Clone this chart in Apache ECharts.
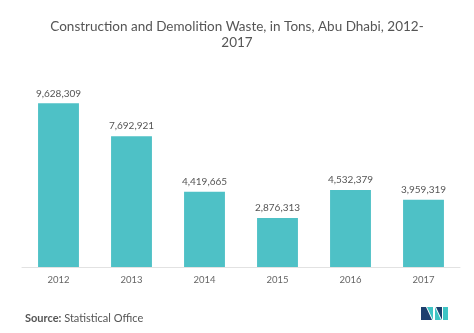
<!DOCTYPE html>
<html>
<head>
<meta charset="utf-8">
<script src="https://cdn.jsdelivr.net/npm/echarts@6/dist/echarts.min.js"></script>
<style>
html,body{margin:0;padding:0;background:#fff;}
#chart{width:474px;height:333px;}
</style>
</head>
<body>
<div id="chart"></div>
<script>
var categories = ['2012', '2013', '2014', '2015', '2016', '2017'];
var wasteTons = [9628309, 7692921, 4419665, 2876313, 4532379, 3959319];
var titleText = 'Construction and Demolition Waste, in Tons, Abu Dhabi, 2012-\n2017';

var chart = echarts.init(document.getElementById('chart'), null, {renderer: 'canvas'});
var FONT = 'Lato, "Open Sans", sans-serif';
chart.setOption({
  animation: false,
  backgroundColor: '#ffffff',
  title: {
    text: titleText,
    left: 'center',
    top: 14,
    textStyle: {fontFamily: FONT, fontSize: 13.5, fontWeight: 'normal', color: '#555555', lineHeight: 16}
  },
  grid: {left: 22, right: 14, top: 97, bottom: 66, containLabel: false},
  xAxis: {
    type: 'category',
    data: categories,
    axisLine: {show: true, lineStyle: {color: '#e2e2e2', width: 1}},
    axisTick: {show: false},
    axisLabel: {fontFamily: FONT, fontSize: 9.5, color: '#666666', margin: 8}
  },
  yAxis: {
    type: 'value',
    min: 0,
    max: 10000000,
    show: false,
    splitLine: {show: false}
  },
  series: [{
    type: 'bar',
    data: wasteTons,
    barWidth: '56%',
    itemStyle: {color: '#4EC1C6'},
    label: {
      show: true,
      position: 'top',
      distance: 5,
      fontFamily: FONT,
      fontSize: 10,
      color: '#555555',
      formatter: function (p) { return p.value.toLocaleString('en-US'); }
    }
  }],
  graphic: [
    {
      type: 'text', left: 25, top: 313,
      style: {
        text: '{b|Source:} Statistical Office',
        rich: {b: {fontWeight: 'bold', fontFamily: FONT, fontSize: 11, fill: '#555555'}},
        fontFamily: FONT, fontSize: 11, fill: '#555555'
      }
    },
    {type: 'polygon', shape: {points: [[421,307],[426,307],[432,320],[421,320]]}, style: {fill: '#1d3f6e'}},
    {type: 'polygon', shape: {points: [[427,307],[433,307],[433,320]]}, style: {fill: '#3ec4c4'}},
    {type: 'polygon', shape: {points: [[435,307],[441,320],[435,320]]}, style: {fill: '#3ec4c4'}},
    {type: 'polygon', shape: {points: [[436,307],[442,307],[442,320]]}, style: {fill: '#1d3f6e'}},
    {type: 'polygon', shape: {points: [[443,307],[448,307],[448,320],[443,320]]}, style: {fill: '#3ec4c4'}}
  ]
});
</script>
</body>
</html>
